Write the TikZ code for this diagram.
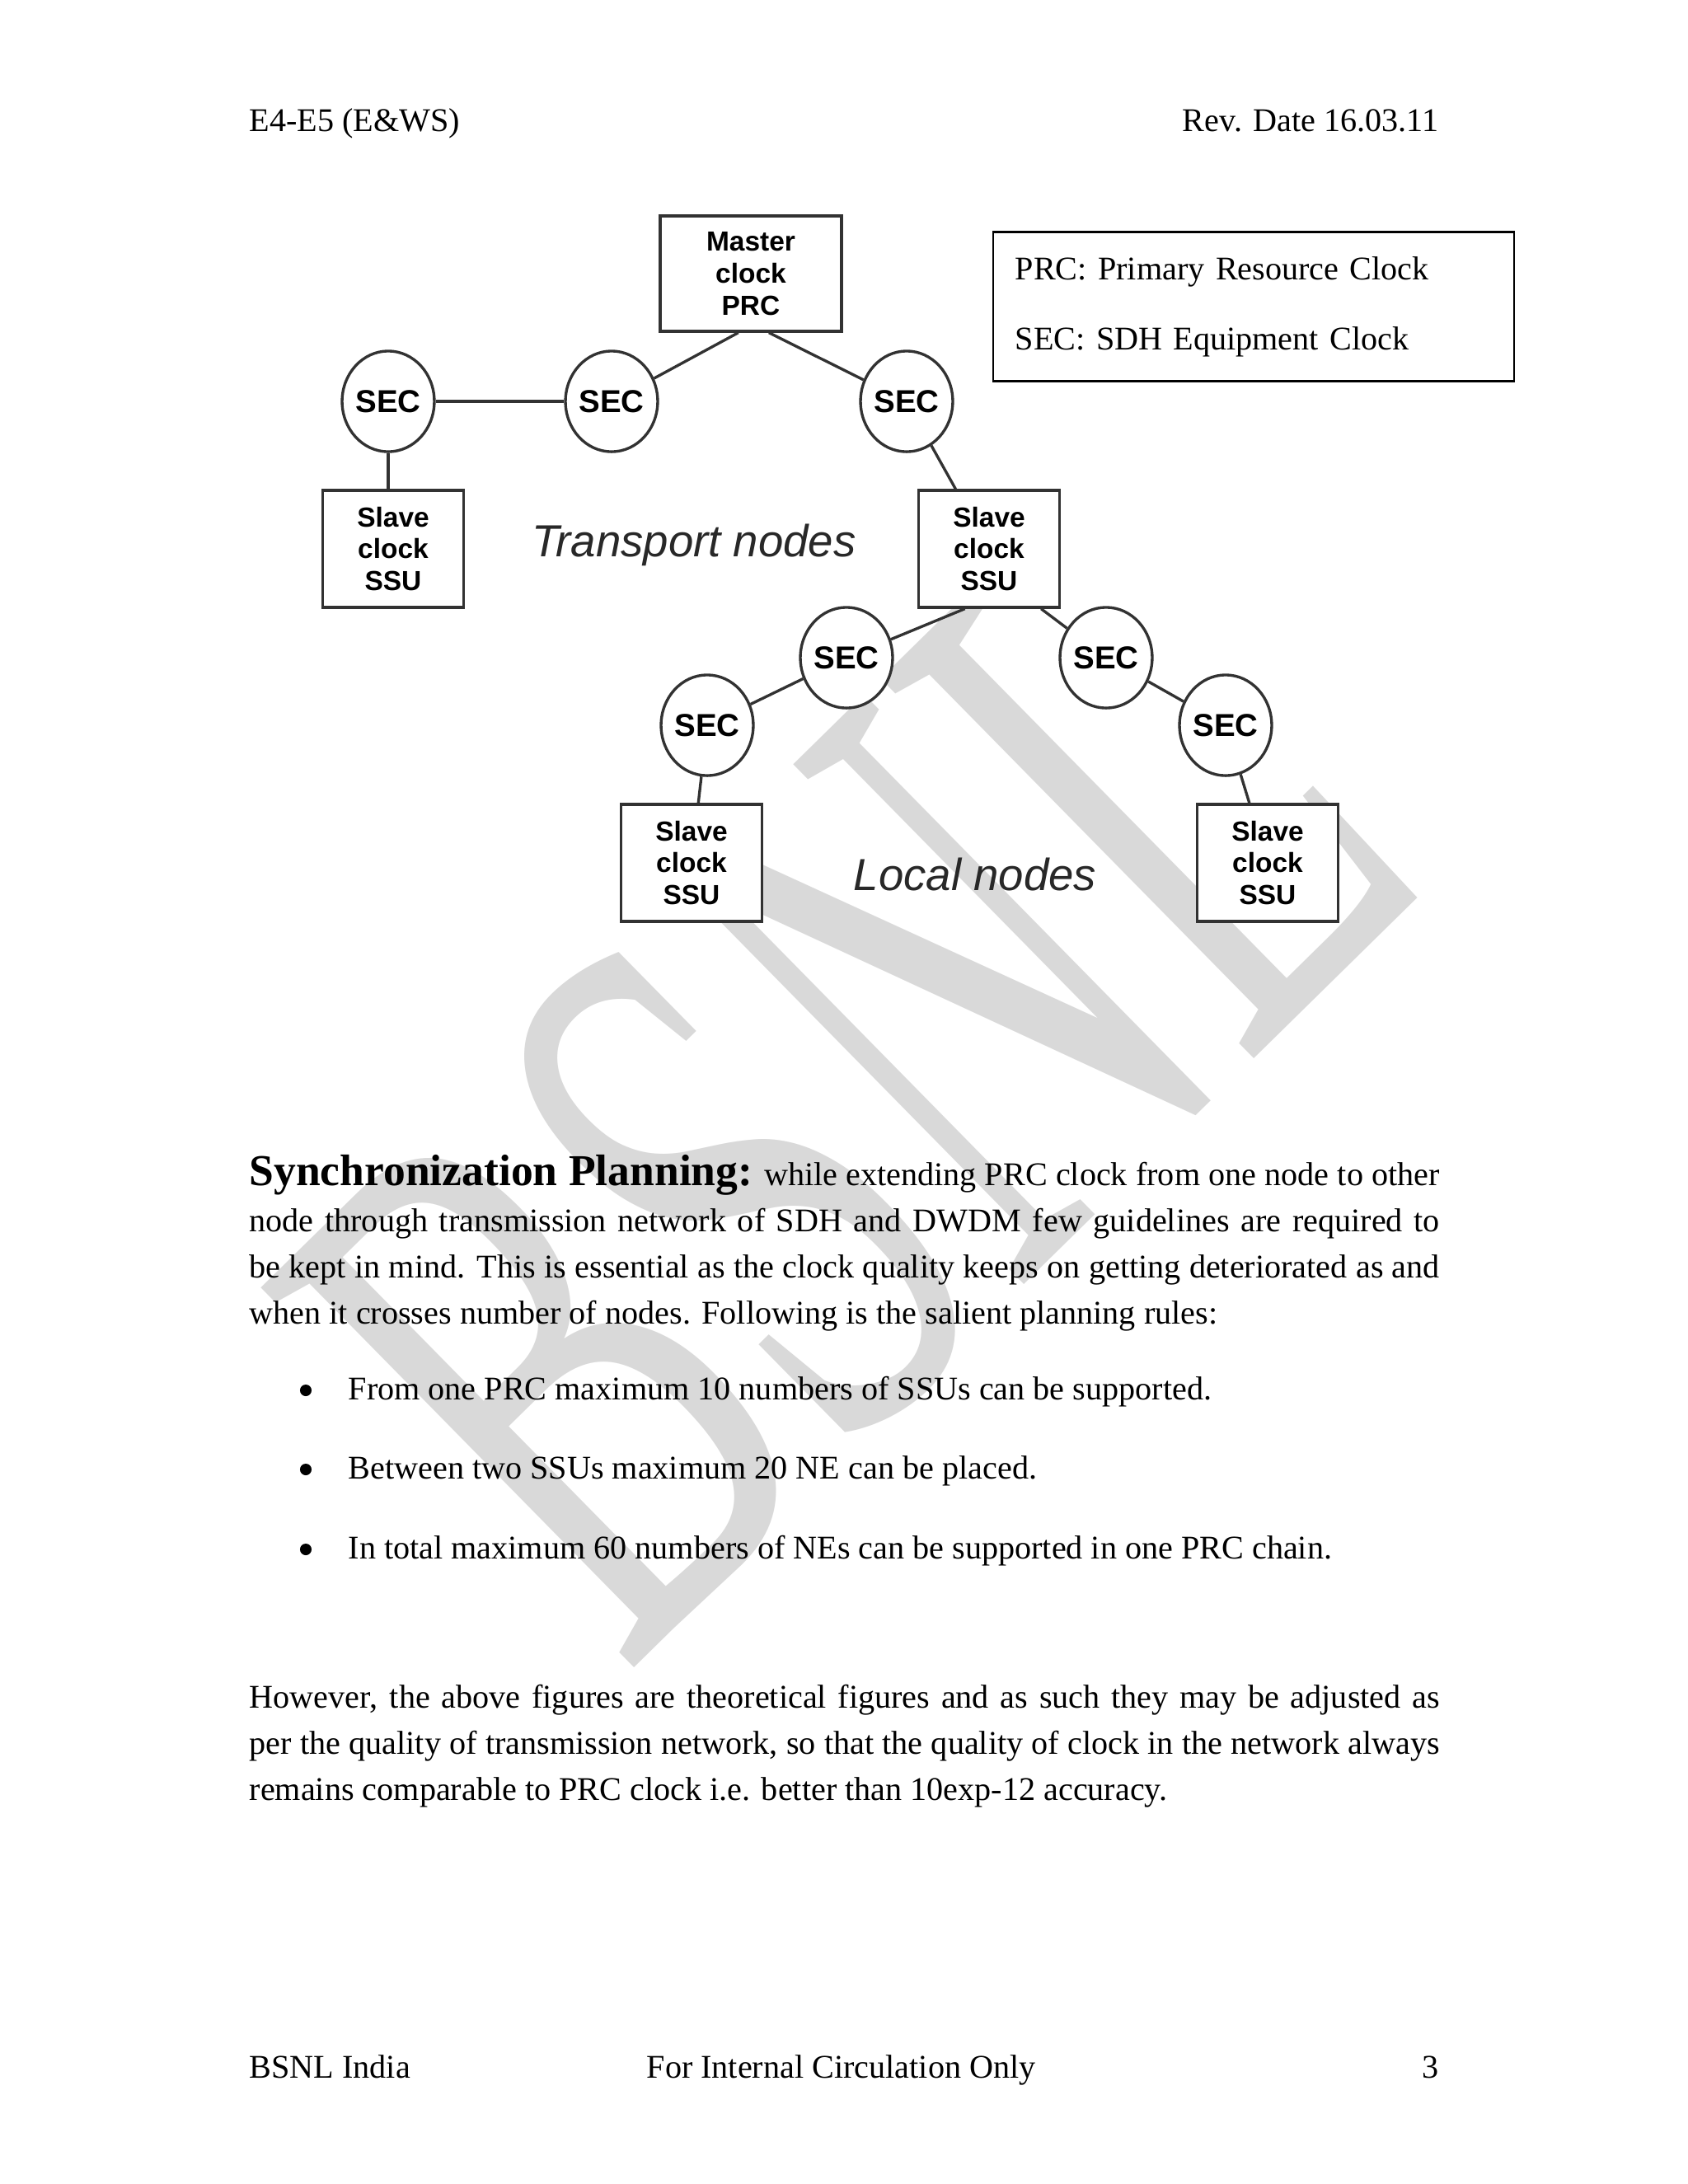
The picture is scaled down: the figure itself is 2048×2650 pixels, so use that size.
\documentclass[tikz,border=0pt]{standalone}
\usepackage{fontspec}
\setmainfont{Liberation Serif}
\newfontfamily\arialfont{Liberation Sans}
\usepackage{xcolor}
\usetikzlibrary{shapes.geometric}

\tikzset{
  clockbox/.style={draw={rgb, 255:red, 50; green, 50; blue, 50}, fill=white, line width=1pt, minimum width=51pt, minimum height=42.4pt, inner sep=0pt, align=center, font=\arialfont\bfseries\fontsize{10}{11.6}\selectfont},
  secnode/.style={ellipse, draw={rgb, 255:red, 50; green, 50; blue, 50}, fill=white, line width=1pt, minimum width=33pt, minimum height=36.5pt, inner sep=0pt, font=\arialfont\bfseries\fontsize{11.5}{12}\selectfont},
  link/.style={draw={rgb, 255:red, 50; green, 50; blue, 50}, line width=1pt},
  zonelabel/.style={inner sep=0pt, font=\arialfont\itshape\fontsize{16.3}{18}\selectfont, text={rgb, 255:red, 40; green, 40; blue, 40}},
  pagetext/.style={inner sep=0pt, font=\fontsize{12}{16.8}\selectfont},
  bulletdot/.style={circle, fill=black, inner sep=0pt, minimum size=4.2pt},
}

\begin{document}
\begin{tikzpicture}[x=0.2988pt,y=0.2988pt,yscale=-1,xscale=1]
\fill[white] (0,0) rectangle (2048,2650);
\useasboundingbox (0,0) rectangle (2048,2650);

%Watermark
\node[anchor=base west, rotate=44.5, yscale=1.82, inner sep=0pt, text=black!15, font=\fontsize{162}{170}\selectfont] (mark) at (758,2035) {BSNL};

% Header
\node[pagetext, anchor=base west] (hdrleft) at (302,159) {E4-E5 (E\&WS)};
\node[pagetext, anchor=base east] (hdrright) at (1746,159) {Rev. Date 16.03.11};

%Shape: Master clock
\node[clockbox, minimum width=65.7pt, minimum height=41.8pt] (master) at (911,332) {Master\\clock\\PRC};
%Shape: Transport SEC
\node[secnode] (secA) at (471,487) {SEC};
\node[secnode] (secB) at (742,487) {SEC};
\node[secnode] (secC) at (1100,487) {SEC};
%Shape: Transport SSU
\node[clockbox] (ssuA) at (477,666) {Slave\\clock\\SSU};
\node[clockbox] (ssuB) at (1200,666) {Slave\\clock\\SSU};
%Shape: Local SEC
\node[secnode] (secD) at (1027,798) {SEC};
\node[secnode] (secE) at (1342,798) {SEC};
\node[secnode] (secF) at (858,880) {SEC};
\node[secnode] (secG) at (1487,880) {SEC};
%Shape: Local SSU
\node[clockbox] (ssuC) at (839,1047) {Slave\\clock\\SSU};
\node[clockbox] (ssuD) at (1538,1047) {Slave\\clock\\SSU};

% Text Node
\node[zonelabel] (transport) at (842,661) {Transport nodes};
% Text Node
\node[zonelabel] (local) at (1183,1061) {Local nodes};

%Straight Lines
\draw[link] (master.258) -- (secB);
\draw[link] (master.287) -- (secC);
\draw[link] (secA) -- (secB);
\draw[link] (secA) -- (secA |- ssuA.north);
\draw[link] (secC) -- (ssuB);
\draw[link] (ssuB.248) -- (secD);
\draw[link] (ssuB.311) -- (secE);
\draw[link] (secD) -- (secF);
\draw[link] (secE) -- (secG);
\draw[link] (secF) -- (ssuC);
\draw[link] (secG) -- (ssuD);

%Shape: Legend
\node[draw, line width=0.8pt, minimum width=188.8pt, minimum height=54.1pt, text width=172.8pt, inner xsep=8pt, align=left, font=\fontsize{12}{25.5}\selectfont] (key) at (1521,372) {PRC: Primary Resource Clock\\SEC: SDH Equipment Clock};

% Text Node
\node[pagetext, anchor=base west, text width=431.5pt, align=justify] (intro) at (302,1438) {{\bfseries\fontsize{16}{16.8}\selectfont Synchronization Planning:} while extending PRC clock from one node to other\linebreak node through transmission network of SDH and DWDM few guidelines are required to\linebreak be kept in mind. This is essential as the clock quality keeps on getting deteriorated as and\linebreak when it crosses number of nodes. Following is the salient planning rules:};

% Bullets
\node[bulletdot] (dot1) at (371,1687) {};
\node[pagetext, anchor=base west] (rule1) at (422,1698) {From one PRC maximum 10 numbers of SSUs can be supported.};
\node[bulletdot] (dot2) at (371,1783) {};
\node[pagetext, anchor=base west] (rule2) at (422,1794) {Between two SSUs maximum 20 NE can be placed.};
\node[bulletdot] (dot3) at (371,1880) {};
\node[pagetext, anchor=base west] (rule3) at (422,1891) {In total maximum 60 numbers of NEs can be supported in one PRC chain.};

% Text Node
\node[pagetext, anchor=base west, text width=431.5pt, align=justify] (closing) at (302,2072) {However, the above figures are theoretical figures and as such they may be adjusted as\linebreak per the quality of transmission network, so that the quality of clock in the network always\linebreak remains comparable to PRC clock i.e. better than 10exp-12 accuracy.};

% Footer
\node[pagetext, anchor=base west] (ftrleft) at (302,2521) {BSNL India};
\node[pagetext, anchor=base west] (ftrmid) at (784,2521) {For Internal Circulation Only};
\node[pagetext, anchor=base east] (ftrright) at (1746,2521) {3};

\end{tikzpicture}
\end{document}
